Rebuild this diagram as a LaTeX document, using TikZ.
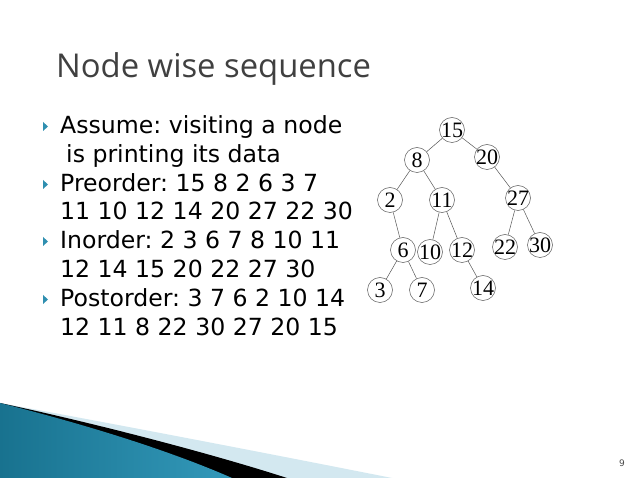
\documentclass[tikz,border=0pt]{standalone}
\usepackage{fontspec}
\setmainfont{DejaVu Sans}
\newfontfamily\titlefont{Open Sans}
\newfontfamily\treefont{Liberation Serif}
\frenchspacing
\newcommand{\tv}[1]{\makebox[0pt]{#1}}
\begin{document}
\begin{tikzpicture}[x=1pt,y=-1pt,
  tnode/.style={circle,draw=black!65,line width=0.5pt,minimum size=25pt,inner sep=0pt,font=\treefont\fontsize{22}{22}\selectfont},
  tedge/.style={draw=black!65,line width=0.5pt},
  body/.style={anchor=base west,inner sep=0pt,font=\fontsize{23.6}{28}\selectfont,text=black},
  bul/.style={fill=bulletc}]
\definecolor{bulletc}{HTML}{2F8FB0}
\definecolor{titlec}{HTML}{404040}
\definecolor{lightb}{HTML}{D3E8F0}
\definecolor{tealdark}{HTML}{18728F}
\definecolor{tealmid}{HTML}{52B4D2}
\definecolor{tealright}{HTML}{3399BA}
\useasboundingbox (0,0) rectangle (638,478);
\fill[white] (0,0) rectangle (638,478);
% bottom-left swoosh
\fill[lightb] (0,403) .. controls (60,414) and (200,440) .. (392,478) -- (0,478) -- cycle;
\fill[black] (0,403) .. controls (80,420) and (200,450) .. (287,478) -- (0,478) -- cycle;
\shade[left color=tealdark,middle color=tealmid,right color=tealright] (0,403) .. controls (100,428) and (180,455) .. (232,478) -- (0,478) -- cycle;
% title
\node[anchor=base west,inner sep=0pt,text=titlec,font=\titlefont\fontsize{32.8}{33}\selectfont] (title) at (56,78) {Node wise sequence};
% bullets
\fill[bul] (43,122) -- (48,126.5) -- (43,131) -- cycle;
\fill[bul] (43,180) -- (48,184.5) -- (43,189) -- cycle;
\fill[bul] (43,237) -- (48,241.5) -- (43,246) -- cycle;
\fill[bul] (43,295) -- (48,299.5) -- (43,304) -- cycle;
% text
\node[body] (l1) at (60,134) {Assume: visiting a node};
\node[body] (l2) at (66,163) {is printing its data};
\node[body] (l3) at (60,192) {Preorder: 15 8 2 6 3 7};
\node[body] (l4) at (60,220) {11 10 12 14 20 27 22 30};
\node[body] (l5) at (60,249) {Inorder: 2 3 6 7 8 10 11};
\node[body] (l6) at (60,278) {12 14 15 20 22 27 30};
\node[body] (l7) at (60,307) {Postorder: 3 7 6 2 10 14};
\node[body] (l8) at (60,336) {12 11 8 22 30 27 20 15};
% tree
\node[tnode] (n15) at (452,130) {\tv{15}};
\node[tnode] (n8) at (417,160) {\tv{8}};
\node[tnode] (n20) at (487,157) {\tv{20}};
\node[tnode] (n2) at (390,200) {\tv{2}};
\node[tnode] (n11) at (442,200) {\tv{11}};
\node[tnode] (n27) at (518,198) {\tv{27}};
\node[tnode] (n6) at (403,250) {\tv{6}};
\node[tnode] (n10) at (430,252) {\tv{10}};
\node[tnode] (n12) at (462,250) {\tv{12}};
\node[tnode] (n22) at (505,247) {\tv{22}};
\node[tnode] (n30) at (540,245) {\tv{30}};
\node[tnode] (n3) at (380,290) {\tv{3}};
\node[tnode] (n7) at (422,290) {\tv{7}};
\node[tnode] (n14) at (483,288) {\tv{14}};
\draw[tedge] (n15) -- (n8);
\draw[tedge] (n15) -- (n20);
\draw[tedge] (n8) -- (n2);
\draw[tedge] (n8) -- (n11);
\draw[tedge] (n20) -- (n27);
\draw[tedge] (n2) -- (n6);
\draw[tedge] (n11) -- (n10);
\draw[tedge] (n11) -- (n12);
\draw[tedge] (n27) -- (n22);
\draw[tedge] (n27) -- (n30);
\draw[tedge] (n6) -- (n3);
\draw[tedge] (n6) -- (n7);
\draw[tedge] (n12) -- (n14);
% page number
\node[anchor=base,inner sep=0pt,text=black!70,font=\fontsize{9}{9}\selectfont] (pg) at (622,467) {9};
\end{tikzpicture}
\end{document}
